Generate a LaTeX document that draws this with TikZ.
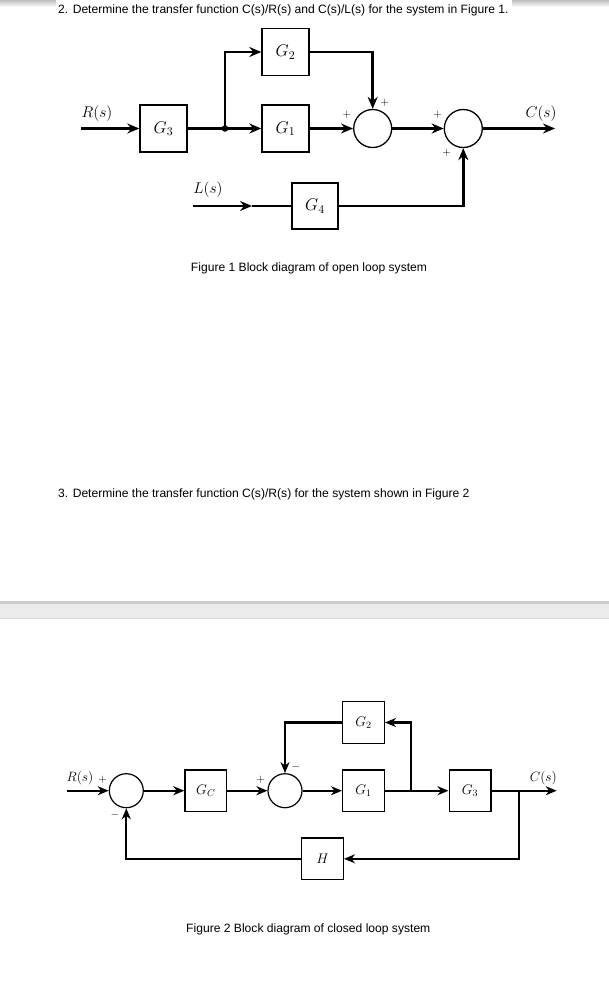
\RequirePackage{fix-cm}
\documentclass[tikz,border=0pt]{standalone}
\usepackage{fontspec}
\newfontfamily\arial{Liberation Sans}
\usetikzlibrary{arrows.meta,calc}
\begin{document}
\begin{tikzpicture}[x=1pt,y=-1pt,
  conn/.style={line width=2.5pt},
  connb/.style={line width=2.2pt},
  arr/.style={-{Stealth[length=12pt,width=10pt,inset=4pt]}},
  arrb/.style={-{Stealth[length=11pt,width=9pt,inset=3.5pt]}},
  blk/.style={draw,line width=1.4pt,minimum size=47pt,inner sep=0pt,font=\fontsize{17}{19}\selectfont},
  blkb/.style={draw,line width=1.3pt,minimum size=41.7pt,inner sep=0pt,font=\fontsize{14}{16}\selectfont},
  sumc/.style={draw,circle,line width=1.3pt,minimum size=38pt,inner sep=0pt},
  sumcb/.style={draw,circle,line width=1.2pt,minimum size=34pt,inner sep=0pt},
  sig/.style={font=\fontsize{15.5}{17}\selectfont,inner sep=0pt},
  sigb/.style={font=\fontsize{13.5}{15}\selectfont,inner sep=0pt},
  sgn/.style={font=\fontsize{11}{12}\selectfont,inner sep=0pt},
  txt/.style={font=\arial\fontsize{12.1}{14}\selectfont,inner sep=0pt}
]
\useasboundingbox (0,0) rectangle (609,989);
\fill[white] (0,0) rectangle (609,989);
% top shadow
\shade[top color=black!25,bottom color=white] (0,0) rectangle (609,7);
\fill[white] (56,0) rectangle (512,7);
% gray band
\fill[black!8] (0,601) rectangle (609,618);
\fill[black!20] (0,601) rectangle (609,603.5);
\draw[black!14,line width=0.8pt] (0,618) -- (609,618);

% texts
\node[txt,anchor=base west] (t1) at (58,13.5) {2. Determine the transfer function C(s)/R(s) and C(s)/L(s) for the system in Figure 1.};
\node[txt,anchor=base] (cap1) at (309,271) {Figure 1 Block diagram of open loop system};
\node[txt,anchor=base west] (t2) at (58,497) {3. Determine the transfer function C(s)/R(s) for the system shown in Figure 2};
\node[txt,anchor=base] (cap2) at (308.3,932) {Figure 2 Block diagram of closed loop system};

% ---------- Figure 1 ----------
\node[blk] (G3) at (163.5,128.5) {$G_3$};
\node[blk] (G1) at (285.5,128.5) {$G_1$};
\node[blk] (G2) at (285.5,52) {$G_2$};
\node[blk,minimum size=46pt] (G4) at (315,206) {$G_4$};
\node[sumc] (S1) at (372.7,128.5) {};
\node[sumc] (S2) at (463.3,128.5) {};
\coordinate (rin) at (81,128.5);
\coordinate (lin) at (193,206);
\coordinate (lmid) at (252,206);
\coordinate (cout) at (555,128.5);
\coordinate (j) at (225,128.5);
\fill (j) circle (3.3pt);

\node[sig] (Rl) at (97,113.5) {$R(s)$};
\node[sig] (Ll) at (208,189.5) {$L(s)$};
\node[sig] (Cl) at (541,114) {$C(s)$};
\node[sgn] (p1) at (347,115) {$+$};
\node[sgn] (p2) at (385,103) {$+$};
\node[sgn] (p3) at (437.7,115) {$+$};
\node[sgn] (p4) at (446.7,153) {$+$};

\draw[conn,arr] (rin) -- (G3.west);
\draw[conn] (G3.east) -- (j);
\draw[conn,arr] (j) -- (G1.west);
\draw[conn,arr] (j) |- (G2.west);
\draw[conn,arr] (G1.east) -- (S1.west);
\draw[conn,arr] (G2.east) -| (S1.north);
\draw[conn,arr] (S1.east) -- (S2.west);
\draw[conn,arr] (S2.east) -- (cout);
\draw[conn,arr] (lin) -- (lmid);
\draw[conn] (lmid) -- (G4.west);
\draw[conn,arr] (G4.east) -| (S2.south);

% ---------- Figure 2 ----------
\node[sumcb] (SA) at (126.3,790.7) {};
\node[blkb] (GC) at (205.8,790.7) {$G_C$};
\node[sumcb] (SB) at (285,790.7) {};
\node[blkb] (G1b) at (363.5,790.7) {$G_1$};
\node[blkb] (G2b) at (363.5,722.5) {$G_2$};
\node[blkb] (G3b) at (470,790.7) {$G_3$};
\node[blkb] (Hb) at (322.5,858.8) {$H$};
\coordinate (rin2) at (66.7,790.7);
\coordinate (b1) at (411,790.7);
\coordinate (b2) at (519.3,790.7);
\coordinate (cout2) at (556.7,790.7);

\node[sigb] (R2) at (80,778.5) {$R(s)$};
\node[sigb] (C2) at (543.3,778.5) {$C(s)$};
\node[sgn] (q1) at (102.7,780) {$+$};
\node[sgn] (q2) at (115,815) {$-$};
\node[sgn] (q3) at (260.7,780) {$+$};
\node[sgn] (q4) at (296,766.7) {$-$};

\draw[connb,arrb] (rin2) -- (SA.west);
\draw[connb,arrb] (SA.east) -- (GC.west);
\draw[connb,arrb] (GC.east) -- (SB.west);
\draw[connb,arrb] (SB.east) -- (G1b.west);
\draw[connb,arrb] (G1b.east) -- (G3b.west);
\draw[connb,arrb] (b1) |- (G2b.east);
\draw[connb,arrb] (G2b.west) -| (SB.north);
\draw[connb,arrb] (G3b.east) -- (cout2);
\draw[connb,arrb] (b2) |- (Hb.east);
\draw[connb,arrb] (Hb.west) -| (SA.south);
\end{tikzpicture}
\end{document}
